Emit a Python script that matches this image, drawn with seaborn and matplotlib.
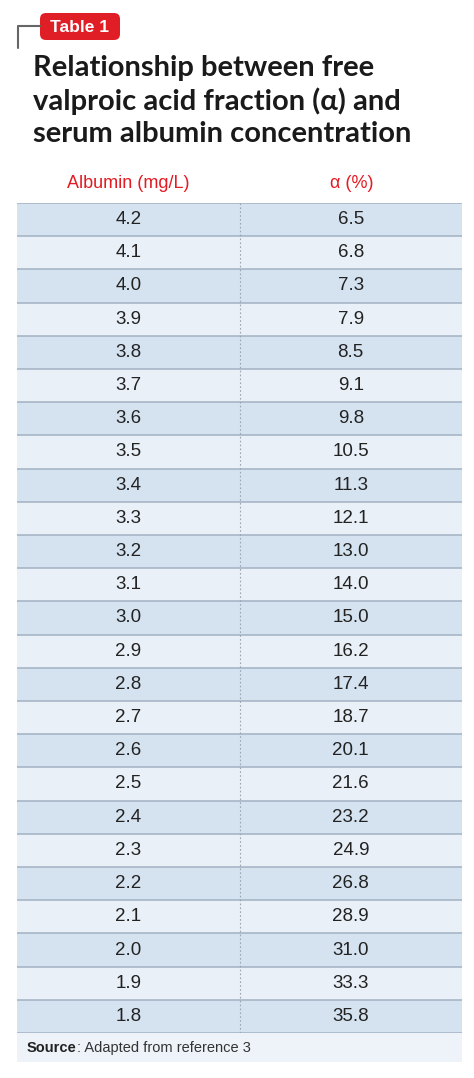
import numpy as np
import matplotlib
matplotlib.use("Agg")
import matplotlib.pyplot as plt
from matplotlib.colors import ListedColormap
from matplotlib.patches import FancyBboxPatch
import seaborn as sns

albumin = ["4.2","4.1","4.0","3.9","3.8","3.7","3.6","3.5","3.4","3.3","3.2","3.1","3.0",
           "2.9","2.8","2.7","2.6","2.5","2.4","2.3","2.2","2.1","2.0","1.9","1.8"]
alpha = ["6.5","6.8","7.3","7.9","8.5","9.1","9.8","10.5","11.3","12.1","13.0","14.0","15.0",
         "16.2","17.4","18.7","20.1","21.6","23.2","24.9","26.8","28.9","31.0","33.3","35.8"]
col_labels = ["Albumin (mg/L)", "\u03b1 (%)"]
title = "Relationship between free\nvalproic acid fraction (\u03b1) and\nserum albumin concentration"
source_bold = "Source"
source_rest = ": Adapted from reference 3"

sns.set_theme(style="white")
plt.rcParams['font.family'] = ['Liberation Sans', 'DejaVu Sans']

W, H = 474, 1078
fig = plt.figure(figsize=(W/100, H/100), dpi=100)
fig.patch.set_facecolor("white")

n = len(albumin)
t_top, t_bot, t_l, t_r = 203, 1033, 17, 462
ax = fig.add_axes([t_l/W, 1-t_bot/H, (t_r-t_l)/W, (t_bot-t_top)/H])
parity = np.array([[i % 2, i % 2] for i in range(n)])
annot = np.array([[a, b] for a, b in zip(albumin, alpha)])
sns.heatmap(parity, ax=ax, cmap=ListedColormap(["#d5e3f1", "#e9f0f8"]), cbar=False,
            annot=annot, fmt="", annot_kws={"fontsize": 13.5, "color": "#222222"},
            xticklabels=False, yticklabels=False)
for i in range(n + 1):
    ax.axhline(i, color="#a7b6c6", lw=1.2)
ax.axvline(1, color="#9aa5b0", lw=0.8, ls=(0, (1.5, 2)))
for s in ax.spines.values():
    s.set_visible(False)

ov = fig.add_axes([0, 0, 1, 1], facecolor="none")
ov.set_xlim(0, W); ov.set_ylim(H, 0); ov.axis("off")
ov.add_patch(plt.Rectangle((t_l, t_bot), t_r-t_l, 29, color="#eef3f9", lw=0))
sb = ov.text(27, t_bot+15, source_bold, fontsize=10.5, fontweight="bold", va="center", color="#222222")
fig.canvas.draw()
bb = sb.get_window_extent(renderer=fig.canvas.get_renderer())
ov.text(27 + bb.width, t_bot+15, source_rest, fontsize=10.5, va="center", color="#333333")

ov.text(128, 183, col_labels[0], fontsize=13, color="#e31b23", ha="center", va="center")
ov.text(352, 183, col_labels[1], fontsize=13, color="#e31b23", ha="center", va="center")

ov.text(33, 101, title, fontsize=21, fontweight="bold", family=["Lato", "DejaVu Sans"],
        color="#1a1a1a", va="center", ha="left", linespacing=1.3)

ov.plot([18, 18, 40], [48, 26, 26], color="#666666", lw=1.5)
ov.add_patch(FancyBboxPatch((40, 13), 80, 27, boxstyle="round,pad=0,rounding_size=6",
                            color="#e01e25", lw=0))
ov.text(80, 27, "Table 1", fontsize=12.5, fontweight="bold", color="white", ha="center", va="center")

fig.savefig("out.png", dpi=100)
